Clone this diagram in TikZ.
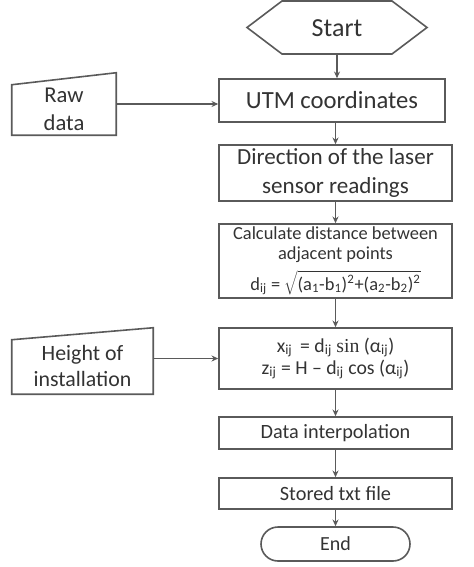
\documentclass[tikz,border=0pt]{standalone}
\usepackage{fontspec}
\setmainfont{Carlito}
\usetikzlibrary{arrows.meta,shapes.misc}
\definecolor{ln}{HTML}{5A5A5A}
\definecolor{tx}{HTML}{333333}
\begin{document}
\begin{tikzpicture}[x=0.75pt,y=-0.75pt,
  box/.style={draw=ln,line width=1.2pt,rectangle,text=tx,align=center,inner sep=0pt},
  ghost/.style={draw=none,rectangle,inner sep=0pt},
  lbl/.style={text=tx,align=center,inner sep=0pt},
  shp/.style={draw=ln,line width=1.2pt,line join=miter},
  arr/.style={draw=ln,line width=0.9pt,-{Stealth[length=5pt,width=4.5pt]}}]
\useasboundingbox (0,0) rectangle (474,567);
% Start hexagon
\node[ghost,minimum width=135pt,minimum height=39.75pt] (start) at (337,27.5) {};
\draw[shp] (247,27.5) -- (282,1) -- (392,1) -- (427,27.5) -- (392,54) -- (282,54) -- cycle;
\node[lbl,font=\fontsize{19.5}{22}\selectfont] (starttext) at (337,28) {Start};
% main column
\node[box,minimum width=169.5pt,minimum height=32.25pt,font=\fontsize{18.5}{22}\selectfont] (utm) at (332,100.5) {UTM coordinates};
\node[box,minimum width=174.75pt,minimum height=42pt,font=\fontsize{17.3}{21.5}\selectfont] (dir) at (335.5,173) {Direction of the laser\\sensor readings};
\node[box,minimum width=174.75pt,minimum height=55.5pt,font=\fontsize{13.8}{15}\selectfont] (calc) at (335.5,261)
  {Calculate distance between\\adjacent points\\[5pt]
   d\textsubscript{ij} = $\sqrt{\mbox{(a\textsubscript{1}-b\textsubscript{1})\textsuperscript{2}+(a\textsubscript{2}-b\textsubscript{2})\textsuperscript{2}}}$};
\node[box,minimum width=174.75pt,minimum height=45.75pt,font=\fontsize{14.8}{16.5}\selectfont] (xz) at (335.5,358.5)
  {x\textsubscript{ij} \,= d\textsubscript{ij} {\fontspec{Liberation Serif}sin} (α\textsubscript{ij})\\
   z\textsubscript{ij} = H -- d\textsubscript{ij} cos (α\textsubscript{ij})};
\node[box,minimum width=174.75pt,minimum height=24pt,font=\fontsize{15.2}{18}\selectfont] (interp) at (335.5,433) {Data interpolation};
\node[box,minimum width=174.75pt,minimum height=23.25pt,font=\fontsize{15.2}{18}\selectfont] (stored) at (335.5,493.5) {Stored txt file};
\node[box,rounded rectangle,minimum width=111.75pt,minimum height=25.5pt,font=\fontsize{15}{18}\selectfont] (end) at (335.5,544) {End};
% manual inputs
\node[ghost,minimum width=78pt,minimum height=46.5pt] (raw) at (64,104) {};
\draw[shp] (raw.south west) -- (raw.south east) -- (raw.north east) -- ([yshift=-9pt]raw.north west) -- cycle;
\node[lbl,font=\fontsize{17}{21}\selectfont] (rawtext) at (64,109.5) {Raw\\data};
\node[ghost,minimum width=105.75pt,minimum height=49.5pt] (hgt) at (82.5,361) {};
\draw[shp] (hgt.south west) -- (hgt.south east) -- (hgt.north east) -- ([yshift=-9pt]hgt.north west) -- cycle;
\node[lbl,font=\fontsize{16.4}{20}\selectfont] (hgttext) at (82.5,366) {Height of\\installation};
% connectors
\draw[arr] (start.south) -- (start.south |- utm.north);
\draw[arr] (utm.south -| dir.north) -- (dir.north);
\draw[arr] (dir.south) -- (calc.north);
\draw[arr] (calc.south) -- (xz.north);
\draw[arr] (xz.south) -- (interp.north);
\draw[arr] (interp.south) -- (stored.north);
\draw[arr] (stored.south) -- (end.north);
\draw[arr] (raw.east) -- (raw.east -| utm.west);
\draw[arr] (hgt.east |- xz.west) -- (xz.west);
\end{tikzpicture}
\end{document}
